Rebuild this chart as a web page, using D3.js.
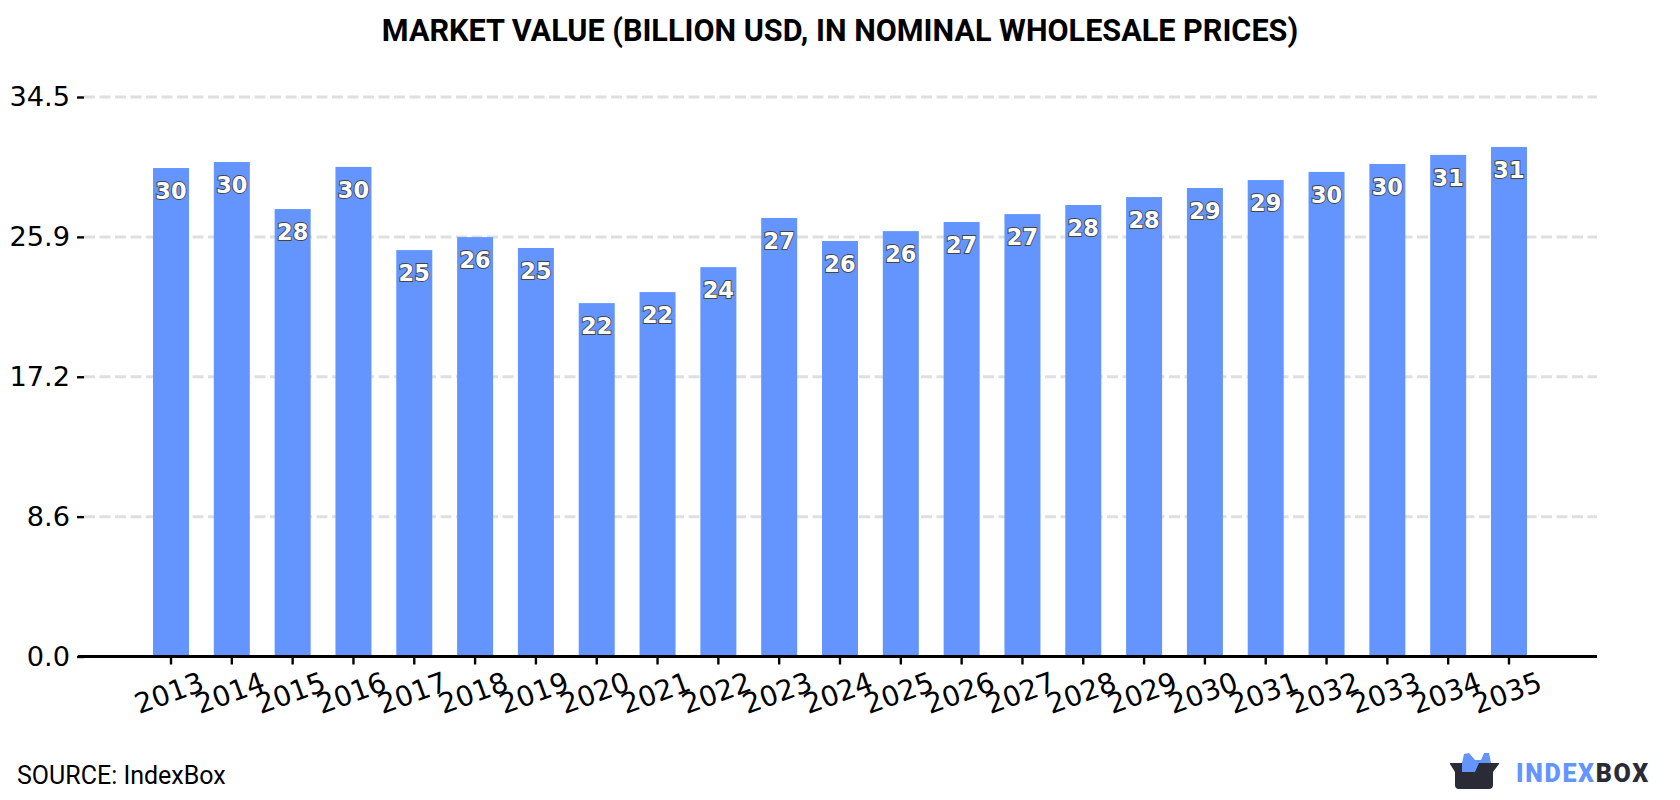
<!DOCTYPE html>
<html>
<head>
<meta charset="utf-8">
<title>Market value</title>
<script src="https://cdn.jsdelivr.net/npm/d3@7"></script>
<style>
  html, body { margin: 0; padding: 0; background: #fff; }
  svg { display: block; }
</style>
</head>
<body>
<svg id="chart" width="1680" height="800"></svg>
<script>
// Market value by year, billion USD
const years = ["2013","2014","2015","2016","2017","2018","2019","2020","2021","2022","2023","2024","2025","2026","2027","2028","2029","2030","2031","2032","2033","2034","2035"];
const marketValue = [30.12,30.49,27.59,30.19,25.06,25.86,25.19,21.79,22.47,24.01,27.04,25.62,26.23,26.79,27.28,27.84,28.33,28.89,29.38,29.88,30.37,30.93,31.42];
const yTickValues = [0, 8.625, 17.25, 25.875, 34.5];
const yTickLabels = ["0.0", "8.6", "17.2", "25.9", "34.5"];

const chartTitle = "MARKET VALUE (BILLION USD, IN NOMINAL WHOLESALE PRICES)";
const sourceText = "SOURCE: IndexBox";

const svg = d3.select("#chart");

const plot = { left: 84, right: 1597, top: 97, bottom: 656.5 };
const x = d3.scaleBand().domain(years).range([140.6, 1539.4]).paddingInner(0.408).paddingOuter(0.204);
const y = d3.scaleLinear().domain([0, 34.5]).range([plot.bottom, plot.top]);

const axisFont = "'DejaVu Sans', sans-serif";
const uiFont = "Roboto, sans-serif";

// dashed horizontal guides sit behind the bars
svg.append("g")
  .selectAll("line")
  .data(yTickValues.slice(1))
  .join("line")
  .attr("x1", plot.left).attr("x2", plot.right)
  .attr("y1", d => y(d)).attr("y2", d => y(d))
  .attr("stroke", "#dfdfdf")
  .attr("stroke-width", 3)
  .attr("stroke-dasharray", "11 4.5");

// bars
svg.append("g")
  .selectAll("rect")
  .data(years.map((year, i) => ({ year, value: marketValue[i] })))
  .join("rect")
  .attr("x", d => x(d.year))
  .attr("y", d => y(d.value))
  .attr("width", x.bandwidth())
  .attr("height", d => y(0) - y(d.value))
  .attr("fill", "#6495ff");

// left axis: short ticks and labels only
const yAxis = svg.append("g")
  .attr("transform", `translate(${plot.left},0)`)
  .call(d3.axisLeft(y).tickValues(yTickValues).tickSize(7).tickPadding(7)
    .tickFormat((d, i) => yTickLabels[i]));
yAxis.select(".domain").remove();
yAxis.selectAll("line").attr("stroke", "#000").attr("stroke-width", 2.4);
yAxis.selectAll("text")
  .attr("font-family", axisFont).attr("font-size", 27.2).attr("fill", "#000");

// bottom axis with tilted year labels
const xAxis = svg.append("g")
  .attr("transform", `translate(0,${plot.bottom})`)
  .call(d3.axisBottom(x).tickSize(8).tickSizeOuter(0));
xAxis.select(".domain").remove();
xAxis.selectAll("line").attr("stroke", "#000").attr("stroke-width", 2.4);
xAxis.selectAll("text")
  .attr("font-family", axisFont).attr("font-size", 28).attr("fill", "#000")
  .attr("text-anchor", "middle").attr("dominant-baseline", "central")
  .attr("x", -2).attr("y", 0).attr("dy", 0)
  .attr("transform", "translate(0,36) rotate(-20)");

// baseline runs the full plot width
svg.append("line")
  .attr("x1", 78).attr("x2", plot.right)
  .attr("y1", plot.bottom).attr("y2", plot.bottom)
  .attr("stroke", "#000").attr("stroke-width", 3);

// value labels inside the bars
svg.append("g")
  .selectAll("text")
  .data(years.map((year, i) => ({ year, value: marketValue[i] })))
  .join("text")
  .attr("x", d => x(d.year) + x.bandwidth() / 2)
  .attr("y", d => y(d.value) + 23)
  .attr("text-anchor", "middle")
  .attr("dominant-baseline", "central")
  .attr("font-family", axisFont)
  .attr("font-weight", "bold")
  .attr("font-size", 22.5)
  .attr("fill", "#fff")
  .attr("stroke", "#444")
  .attr("stroke-width", 1.8)
  .attr("paint-order", "stroke")
  .text(d => d3.format(".0f")(d.value));

// title
svg.append("text")
  .attr("x", 840).attr("y", 30)
  .attr("text-anchor", "middle").attr("dominant-baseline", "central")
  .attr("font-family", uiFont).attr("font-weight", 700).attr("font-size", 30.6)
  .attr("fill", "#000")
  .text(chartTitle);

// source note
svg.append("text")
  .attr("x", 17).attr("y", 784)
  .attr("font-family", uiFont).attr("font-size", 25).attr("fill", "#000")
  .text(sourceText);

// brand mark: open box with blue contents
const logo = svg.append("g");
logo.append("path")
  .attr("d", "M1462 763 L1464 754 L1469 753 L1475 760 L1481 760 L1484 753 L1489 753 L1491 763 L1491 767 L1478 772 L1476 772 L1462 772 Z")
  .attr("fill", "#6495ff");
logo.append("path")
  .attr("d", "M1450 763 L1462 763 L1462 772 L1475 772 L1479 763 L1499 763 L1499 764 L1493 772 L1493 785 Q1493 789 1489 789 L1459 789 Q1455 789 1455 785 L1455 772 L1450 764 Z")
  .attr("fill", "#2a2b36");
const brand = svg.append("text")
  .attr("x", 1516).attr("y", 782)
  .attr("font-family", uiFont).attr("font-weight", 900).attr("font-size", 25)
  .attr("letter-spacing", 1.7);
brand.append("tspan").attr("fill", "#6495ff").text("INDEX");
brand.append("tspan").attr("fill", "#2a2b36").text("BOX");
</script>
</body>
</html>
